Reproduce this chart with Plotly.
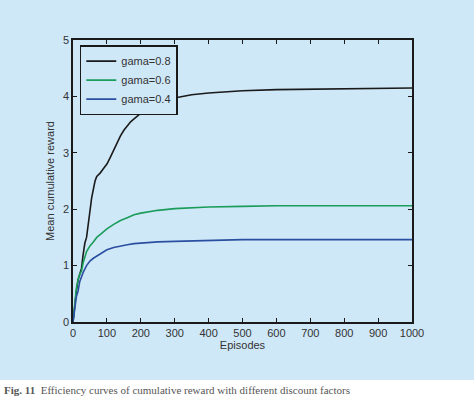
import plotly.graph_objects as go

black_x = [0,5,10,15,20,25,30,35,40,45,50,55,60,65,70,80,90,100,110,120,130,140,150,160,170,180,190,200,220,240,260,280,300,350,400,450,500,600,700,800,900,1000]
black_y = [0,0.3,0.55,0.75,0.85,0.95,1.2,1.4,1.5,1.75,2.02,2.2,2.35,2.5,2.58,2.64,2.72,2.8,2.92,3.05,3.2,3.3,3.4,3.48,3.55,3.6,3.65,3.7,3.8,3.87,3.92,3.95,3.97,4.03,4.06,4.08,4.1,4.12,4.13,4.14,4.15,4.15]

green_x = [0,5,10,15,20,25,30,40,50,60,70,80,90,100,120,140,160,180,200,250,300,350,400,500,600,1000]
green_y = [0,0.35,0.6,0.75,0.85,0.9,1.05,1.25,1.35,1.42,1.5,1.55,1.6,1.65,1.73,1.8,1.85,1.9,1.93,1.98,2.01,2.03,2.04,2.05,2.06,2.06]

blue_x = [0,5,10,15,20,25,30,40,50,60,70,80,90,100,120,140,160,180,200,250,300,400,500,1000]
blue_y = [0,0.25,0.45,0.55,0.72,0.8,0.88,1.0,1.08,1.13,1.17,1.2,1.25,1.28,1.32,1.35,1.37,1.39,1.4,1.42,1.43,1.45,1.46,1.46]

x_ticks = [0,100,200,300,400,500,600,700,800,900,1000]
y_ticks = [0,1,2,3,4,5]

BG = "#cfe8f8"
fig = go.Figure()
fig.add_trace(go.Scatter(x=black_x, y=black_y, mode="lines", name="gama=0.8", line=dict(color="#1a1a1a", width=1.6)))
fig.add_trace(go.Scatter(x=green_x, y=green_y, mode="lines", name="gama=0.6", line=dict(color="#1a9c5a", width=1.6)))
fig.add_trace(go.Scatter(x=blue_x, y=blue_y, mode="lines", name="gama=0.4", line=dict(color="#2a4fa0", width=1.6)))

axis_common = dict(showline=True, linecolor="#1a1a1a", linewidth=1.5, mirror="ticks", ticks="inside",
                   ticklen=4, tickcolor="#1a1a1a", showgrid=False, zeroline=False,
                   tickfont=dict(size=11, color="#333333"))
fig.update_xaxes(range=[0, 1000], tickvals=x_ticks, title=dict(text="Episodes", font=dict(size=11, color="#333333"), standoff=2), **axis_common)
fig.update_yaxes(range=[0, 5], tickvals=y_ticks, title=dict(text="Mean cumulative reward", font=dict(size=11, color="#333333"), standoff=6), **axis_common)

fig.add_shape(type="rect", xref="paper", yref="paper", x0=-0.3, x1=1.3, y0=-0.3, y1=-0.2057,
              fillcolor="white", line=dict(width=0), layer="below")
fig.add_annotation(xref="paper", yref="paper", x=-0.21, y=-0.241, xanchor="left", yanchor="middle",
                   text="<b>Fig. 11</b>  Efficiency curves of cumulative reward with different discount factors",
                   showarrow=False, font=dict(family="Liberation Serif", size=11, color="#555555"))

fig.update_layout(
    width=474, height=397,
    margin=dict(l=73, r=62, t=40, b=75),
    paper_bgcolor=BG, plot_bgcolor=BG,
    font=dict(family="Liberation Sans, Arial", size=11, color="#333333"),
    legend=dict(x=0.02, y=0.982, xanchor="left", yanchor="top", bgcolor=BG,
                bordercolor="#1a1a1a", borderwidth=1.5, font=dict(size=11, color="#333333"),
                tracegroupgap=0, itemwidth=30),
    showlegend=True,
)
fig.write_html("out.html", config={"displayModeBar": False},
               post_script="document.body.style.margin='0';document.body.style.overflow='hidden';")
